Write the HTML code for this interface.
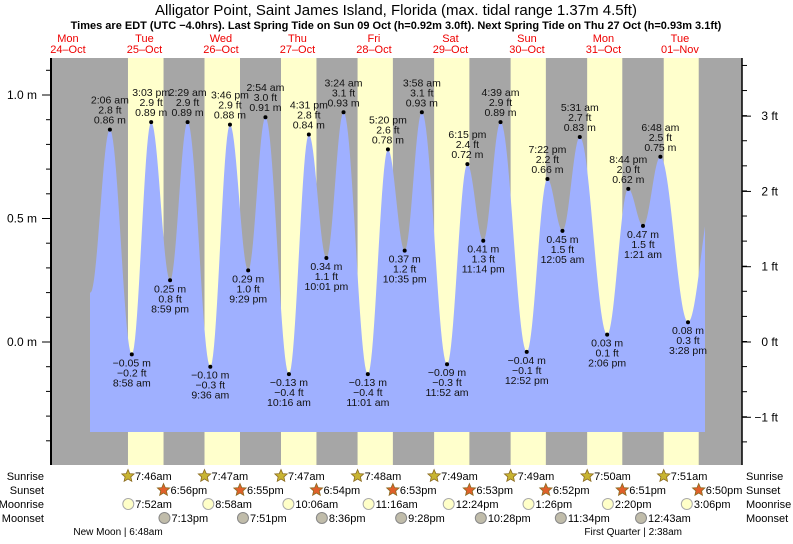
<!DOCTYPE html>
<html><head><meta charset="utf-8"><style>
body{margin:0;background:#fff;}
svg text{font-family:"Liberation Sans",Arial,sans-serif;}
</style></head><body>
<svg id="c" width="793" height="539" xmlns="http://www.w3.org/2000/svg">
<rect width="793" height="539" fill="#fff"/>
<text x="396" y="15" font-size="15" text-anchor="middle">Alligator Point, Saint James Island, Florida (max. tidal range 1.37m 4.5ft)</text>
<text x="396" y="29" font-size="11" font-weight="bold" text-anchor="middle">Times are EDT (UTC −4.0hrs). Last Spring Tide on Sun 09 Oct (h=0.92m 3.0ft). Next Spring Tide on Thu 27 Oct (h=0.93m 3.1ft)</text>
<g id="bg"></g><g id="fillg"></g><g id="ann"></g><g id="axes"></g><g id="bottom"></g>
</svg>
<script>
const days=["Mon|24\u2013Oct","Tue|25\u2013Oct","Wed|26\u2013Oct","Thu|27\u2013Oct","Fri|28\u2013Oct","Sat|29\u2013Oct","Sun|30\u2013Oct","Mon|31\u2013Oct","Tue|01\u2013Nov"];
// tide extremes: day index (0 = 25 Oct), hours, height m, label time
const tideDay=[-1,0,0,0,0,1,1,1,1,2,2,2,2,3,3,3,3,4,4,4,4,5,5,5,6,6,6,6,7,7,7,7];
const tideHour=[20,2.1,8.97,15.05,20.98,2.48,9.6,15.77,21.48,2.9,10.27,16.52,22.02,3.4,11.02,17.33,22.58,3.97,11.87,18.25,23.23,4.65,12.87,19.37,0.08,5.52,14.1,20.73,1.35,6.8,15.47,23.5];
const tideM=[0.2,0.86,-0.05,0.89,0.25,0.89,-0.10,0.88,0.29,0.91,-0.13,0.84,0.34,0.93,-0.13,0.78,0.37,0.93,-0.09,0.72,0.41,0.89,-0.04,0.66,0.45,0.83,0.03,0.62,0.47,0.75,0.08,0.6];
const tideFt=["","2.8","\u22120.2","2.9","0.8","2.9","\u22120.3","2.9","1.0","3.0","\u22120.4","2.8","1.1","3.1","\u22120.4","2.6","1.2","3.1","\u22120.3","2.4","1.3","2.9","\u22120.1","2.2","1.5","2.7","0.1","2.0","1.5","2.5","0.3",""];
const tideTime=["","2:06 am","8:58 am","3:03 pm","8:59 pm","2:29 am","9:36 am","3:46 pm","9:29 pm","2:54 am","10:16 am","4:31 pm","10:01 pm","3:24 am","11:01 am","5:20 pm","10:35 pm","3:58 am","11:52 am","6:15 pm","11:14 pm","4:39 am","12:52 pm","7:22 pm","12:05 am","5:31 am","2:06 pm","8:44 pm","1:21 am","6:48 am","3:28 pm",""];
const sunrise=["7:46am","7:47am","7:47am","7:48am","7:49am","7:49am","7:50am","7:51am"];
const sunriseH=[7.77,7.78,7.78,7.8,7.82,7.82,7.83,7.85];
const sunset=["6:56pm","6:55pm","6:54pm","6:53pm","6:53pm","6:52pm","6:51pm","6:50pm"];
const sunsetH=[18.93,18.92,18.9,18.88,18.88,18.87,18.85,18.83];
const moonrise=["7:52am","8:58am","10:06am","11:16am","12:24pm","1:26pm","2:20pm","3:06pm"];
const moonriseH=[7.87,8.97,10.1,11.27,12.4,13.43,14.33,15.1];
const moonset=["7:13pm","7:51pm","8:36pm","9:28pm","10:28pm","11:34pm","12:43am"];
const moonsetD=[0,1,2,3,4,5,7];
const moonsetH=[19.22,19.85,20.6,21.47,22.47,23.57,0.72];
const mTicks=[1.0,0.5,0.0];
const ftTicks=[3,2,1,0,-1];

const NS="http://www.w3.org/2000/svg";
const L=51,R=742,T=58,B=465,FB=432;
const X0=103.2,PD=76.5;
function x(d,h){return X0+d*PD+h*PD/24;}
function y(m){return 342-247*m;}
function mk(g,tag,a,txt){const e=document.createElementNS(NS,tag);for(const k in a)e.setAttribute(k,a[k]);if(txt!==undefined)e.textContent=txt;document.getElementById(g).appendChild(e);return e;}

let e=mk('bg','rect',{x:L,y:T,width:R-L,height:B-T,fill:'#a6a6a6'});

for(let i=0;i<8;i++){
 e=mk('bg','rect',{x:x(i,sunriseH[i]),y:T,width:x(i,sunsetH[i])-x(i,sunriseH[i]),height:B-T,fill:'#ffffcc'});
 
}
for(let i=0;i<days.length;i++){
 const [wd,dt]=days[i].split('|');const cx=x(i-1,12)+3;
 e=mk('bg','text',{x:cx,y:42,'font-size':11,fill:'#e00','text-anchor':'middle'},wd);
 
 e=mk('bg','text',{x:cx,y:53,'font-size':11,fill:'#e00','text-anchor':'middle'},dt);
 
}
// curve
const pts=tideDay.map((d,i)=>[x(d,tideHour[i]),tideM[i]]);
const xs=90,xe=705;let dpath='M'+xs+' '+FB;
for(let px=xs;px<=xe;px+=1){
 let k=0;while(k<pts.length-2&&pts[k+1][0]<px)k++;
 const [x1,m1]=pts[k],[x2,m2]=pts[k+1];
 let f=(px-x1)/(x2-x1);f=Math.max(0,Math.min(1,f));
 const m=m1+(m2-m1)*(1-Math.cos(Math.PI*f))/2;
 dpath+=' L'+px+' '+y(m).toFixed(1);
}
dpath+=' L'+xe+' '+FB+' Z';
e=mk('fillg','path',{d:dpath,fill:'#9fb0ff'});

for(let i=1;i<pts.length-1;i++){
 const px=pts[i][0],py=y(tideM[i]);const high=tideM[i]>(tideM[i-1]);
 e=mk('ann','circle',{cx:px,cy:py,r:2,fill:'#000'});
 
 const lines=high?[tideTime[i],tideFt[i]+' ft',tideM[i].toFixed(2).replace('-','\u2212')+' m']:[tideM[i].toFixed(2).replace('-','\u2212')+' m',tideFt[i]+' ft',tideTime[i]];
 const y0=high?py-26:py+12;
 lines.forEach((t,j)=>{e=mk('ann','text',{x:px,y:y0+j*10,'font-size':10.5,'text-anchor':'middle',fill:'#111'},t);
 });
}
// axes
e=mk('axes','line',{x1:L,y1:T,x2:L,y2:B,stroke:'#000','stroke-width':2});

e=mk('axes','line',{x1:R,y1:T,x2:R,y2:B,stroke:'#000','stroke-width':1.5});

for(let m=-0.4;m<=1.15;m+=0.1){const yy=y(m);if(yy<T||yy>B)continue;mk('axes','line',{x1:L-5,y1:yy,x2:L,y2:yy,stroke:'#000'});}
mTicks.forEach(m=>{e=mk('axes','text',{x:L-14,y:y(m)+4,'font-size':12,'text-anchor':'end'},m.toFixed(1)+' m');
 
 mk('axes','line',{x1:L-9,y1:y(m),x2:L,y2:y(m),stroke:'#000'});});
for(let f=-1.66;f<=3.8;f+=1/3){const yy=y(f/3.28084);if(yy<T||yy>B)continue;mk('axes','line',{x1:R,y1:yy,x2:R+5,y2:yy,stroke:'#000'});}
ftTicks.forEach(f=>{const yy=y(f/3.28084);mk('axes','line',{x1:R,y1:yy,x2:R+9,y2:yy,stroke:'#000'});
 e=mk('axes','text',{x:R+36,y:yy+4,'font-size':12,'text-anchor':'end'},(f<0?'\u2212'+(-f):f)+' ft');
 });
// bottom rows
const rows=[['Sunrise',480],['Sunset',494],['Moonrise',508],['Moonset',522]];
rows.forEach(([t,yy])=>{e=mk('bottom','text',{x:44,y:yy,'font-size':11,'text-anchor':'end'},t);
 
 e=mk('bottom','text',{x:746,y:yy,'font-size':11},t);
 });
function star(cx,cy,fill){let p='';for(let k=0;k<10;k++){const r=k%2?3:6.5,a=-Math.PI/2+k*Math.PI/5;p+=(k?'L':'M')+(cx+r*Math.cos(a)).toFixed(1)+' '+(cy+r*Math.sin(a)).toFixed(1);}return mk('bottom','path',{d:p+'Z',fill:fill,stroke:'#8a6a20','stroke-width':0.8});}
function lab(px,yy,t,n){const el=mk('bottom','text',{x:px+7,y:yy,'font-size':11},t);}
for(let i=0;i<8;i++){
 let px=x(i,sunriseH[i]);e=star(px,476,'#c8b432');lab(px,480,sunrise[i],'sunrise-time');
 px=x(i,sunsetH[i]);e=star(px,490,'#e0602a');lab(px,494,sunset[i],'sunset-time');
 px=x(i,moonriseH[i]);e=mk('bottom','circle',{cx:px,cy:504,r:5.5,fill:'#ffffc8',stroke:'#aaa'});lab(px,508,moonrise[i],'moonrise-time');
}
for(let i=0;i<moonset.length;i++){const px=x(moonsetD[i],moonsetH[i]);
 e=mk('bottom','circle',{cx:px,cy:518,r:5.5,fill:'#c0bcaa',stroke:'#888'});lab(px,522,moonset[i],'moonset-time');}
e=mk('bottom','text',{x:118,y:535,'font-size':10,'text-anchor':'middle'},'New Moon | 6:48am');

e=mk('bottom','text',{x:682,y:535,'font-size':10,'text-anchor':'end'},'First Quarter | 2:38am');

</script>
</body></html>
